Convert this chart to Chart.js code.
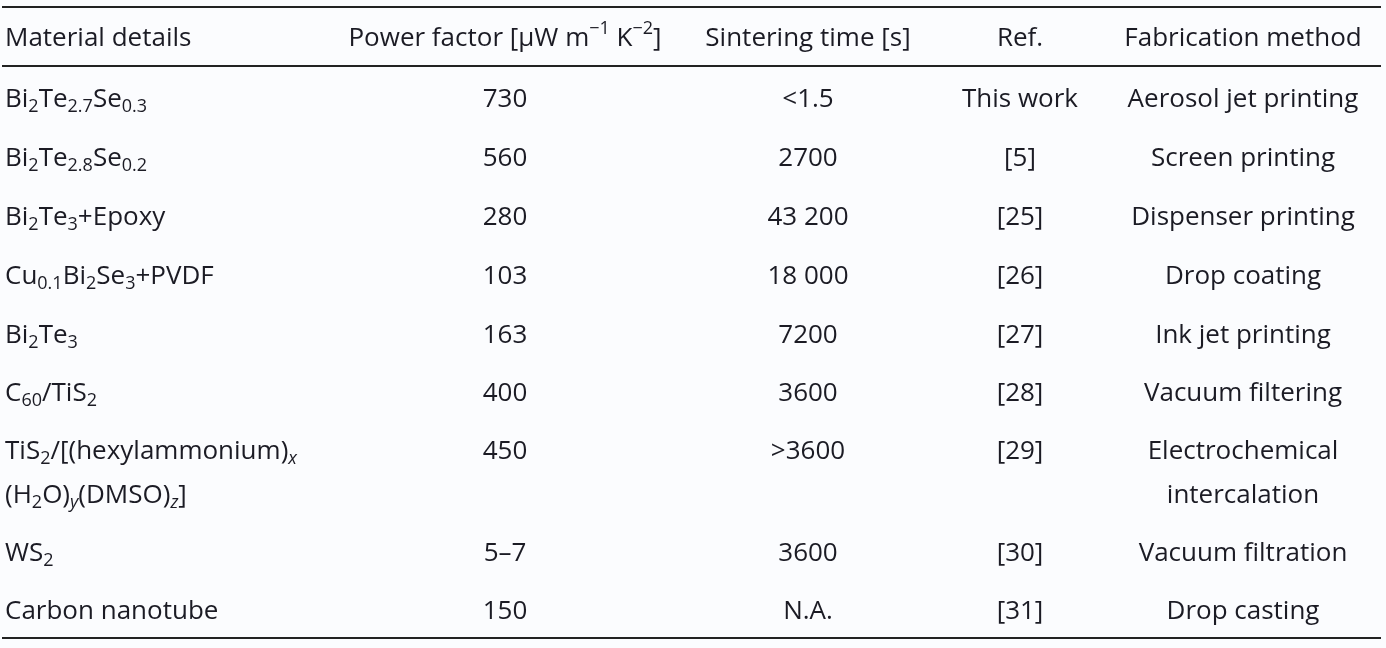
<!DOCTYPE html>
<html><head><meta charset="utf-8">
<script src="https://cdn.jsdelivr.net/npm/chart.js@4"></script>
<style>html,body{margin:0;padding:0;background:#fbfcfe;}#w{width:1386px;height:648px;}</style>
</head><body><div id="w"><canvas id="c"></canvas></div>
<script>
const headers = ["Material details","Power factor [μW m{^−1} K{^−2}]","Sintering time [s]","Ref.","Fabrication method"];
const materials = ["Bi{_2}Te{_2.7}Se{_0.3}","Bi{_2}Te{_2.8}Se{_0.2}","Bi{_2}Te{_3}+Epoxy","Cu{_0.1}Bi{_2}Se{_3}+PVDF","Bi{_2}Te{_3}","C{_60}/TiS{_2}","TiS{_2}/[(hexylammonium){_x*}\n(H{_2}O){_y*}(DMSO){_z*}]","WS{_2}","Carbon nanotube"];
const powerFactor = ["730","560","280","103","163","400","450","5–7","150"];
const sinteringTime = ["<1.5","2700","43 200","18 000","7200","3600",">3600","3600","N.A."];
const refs = ["This work","[5]","[25]","[26]","[27]","[28]","[29]","[30]","[31]"];
const methods = ["Aerosol jet printing","Screen printing","Dispenser printing","Drop coating","Ink jet printing","Vacuum filtering","Electrochemical\nintercalation","Vacuum filtration","Drop casting"];

const colX = [5,505,808,1020,1243];       // layout: column anchors
const headerY = 39;
const rowY = [100,159,218,277,336,394,452,554,612];
const lineGap = 44;
const FONT = '"Open Sans", sans-serif', FS = 26, COLOR = '#1b1b24';

function parse(s){
  const segs=[]; const re=/\{([_^])([^}]*)\}/g; let last=0,m;
  while((m=re.exec(s))){ if(m.index>last) segs.push({t:s.slice(last,m.index),k:''});
    let t=m[2], it=false; if(t.endsWith('*')){it=true;t=t.slice(0,-1);}
    segs.push({t,k:m[1],it}); last=re.lastIndex;}
  if(last<s.length) segs.push({t:s.slice(last),k:''});
  return segs;
}
function fontFor(sg){ const sz = sg.k? Math.round(FS*0.68):FS; return (sg.it?'italic ':'')+sz+'px '+FONT; }
function drawRich(ctx,s,x,y,align){
  const lines=s.split('\n');
  lines.forEach((ln,i)=>{
    const segs=parse(ln); let w=0;
    segs.forEach(sg=>{ctx.font=fontFor(sg); sg.w=ctx.measureText(sg.t).width; w+=sg.w;});
    let cx = align==='center'? x-w/2 : x;
    const yy=y+i*lineGap;
    segs.forEach(sg=>{ctx.font=fontFor(sg);
      const dy = sg.k==='_'? 7 : sg.k==='^'? -10 : 0;
      ctx.fillText(sg.t,cx,yy+dy); cx+=sg.w;});
  });
}
const tablePlugin={id:'table',afterDraw(chart){
  const ctx=chart.ctx, xs=chart.scales.x, ys=chart.scales.y;
  ctx.save(); ctx.fillStyle=COLOR; ctx.textBaseline='middle';
  ctx.strokeStyle='#222'; ctx.lineWidth=2;
  [7,66,638].forEach(v=>{ctx.beginPath();ctx.moveTo(xs.getPixelForValue(2),ys.getPixelForValue(v));ctx.lineTo(xs.getPixelForValue(1381),ys.getPixelForValue(v));ctx.stroke();});
  headers.forEach((h,i)=>drawRich(ctx,h,xs.getPixelForValue(colX[i]),ys.getPixelForValue(headerY),i===0?'left':'center'));
  const cols=[materials,powerFactor,sinteringTime,refs,methods];
  cols.forEach((col,ci)=>col.forEach((v,ri)=>drawRich(ctx,v,xs.getPixelForValue(colX[ci]),ys.getPixelForValue(rowY[ri]),ci===0?'left':'center')));
  ctx.restore();
}};
new Chart(document.getElementById('c'),{
  type:'scatter',
  data:{datasets:[{data:rowY.map((y,i)=>({x:colX[0],y})),pointRadius:0}]},
  options:{responsive:true,maintainAspectRatio:false,animation:false,
    layout:{padding:0},
    plugins:{legend:{display:false},tooltip:{enabled:false}},
    scales:{x:{type:'linear',min:0,max:1386,display:false},
            y:{type:'linear',min:0,max:648,reverse:true,display:false}}},
  plugins:[tablePlugin]
});
</script></body></html>
